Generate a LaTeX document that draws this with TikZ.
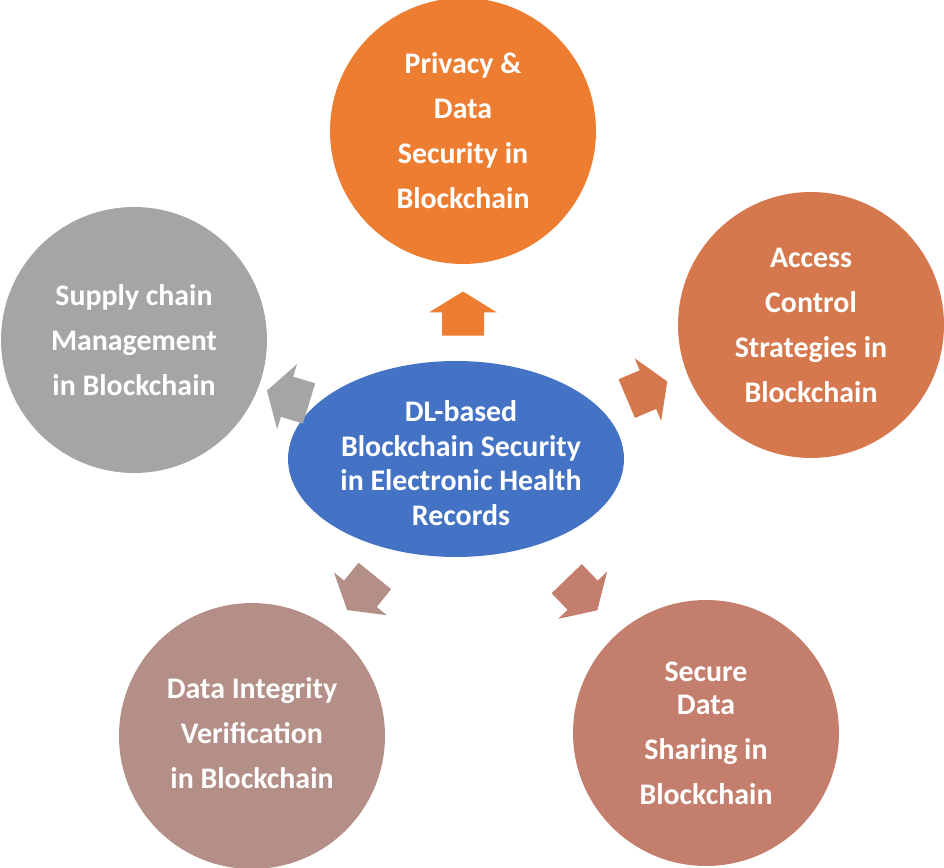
\documentclass[tikz,border=0pt]{standalone}
\usepackage{fontspec}
\setmainfont{Carlito}
\usetikzlibrary{shapes.geometric}
\definecolor{cOrange}{HTML}{ED7D31}
\definecolor{cRust}{HTML}{D6784D}
\definecolor{cGray}{HTML}{A5A5A5}
\definecolor{cMauve}{HTML}{B38F87}
\definecolor{cClay}{HTML}{C47E6D}
\definecolor{cBlue}{HTML}{4472C4}
\tikzset{
  bubble/.style={circle, minimum size=5.32cm, inner sep=0pt, text=white,
    font=\bfseries\fontsize{17}{25.6}\selectfont, align=center},
  hub/.style={ellipse, minimum width=6.72cm, minimum height=3.92cm, inner sep=0pt, fill=cBlue},
  hubtext/.style={text=white, inner sep=0pt, align=center,
    font=\bfseries\fontsize{17}{19.6}\selectfont},
  blockarrow/.pic={\fill (-22,-21) -- (1,-21) -- (1,-34) -- (22,0) -- (1,34) -- (1,21) -- (-22,21) -- cycle;}
}
\begin{document}
\begin{tikzpicture}[x=0.02cm, y=0.02cm]
\useasboundingbox (0,0) rectangle (944,867);
\fill[white] (0,0) rectangle (944,867);
% outer circles
\node[bubble, fill=cOrange] (privacy) at (463,736) {Privacy \&\\Data\\Security in\\Blockchain};
\node[bubble, fill=cRust] (access) at (811,542) {Access\\Control\\Strategies in\\Blockchain};
\node[bubble, fill=cGray] (supply) at (134,527) {Supply chain\\Management\\in Blockchain};
\node[bubble, fill=cMauve] (integrity) at (252,131) {};
\node[text=white, font=\bfseries\fontsize{17}{25.6}\selectfont, align=center, inner sep=0pt] (integritytxt) at (252,134) {Data Integrity\\Verification\\in Blockchain};
\node[bubble, fill=cClay] (sharing) at (706,134) {Secure\\[-6.8pt]Data\\Sharing in\\Blockchain};
% centre
\node[hub] (hub) at (456,408) {};
\node[hubtext] (hubtxt) at (461,404) {DL-based\\Blockchain Security\\in Electronic Health\\Records};
% block arrows
\pic[fill=cOrange, rotate=90] at (463,553.5) {blockarrow};
\pic[fill=cRust, rotate=23] at (647,477) {blockarrow};
\pic[fill=cGray, rotate=163] at (288,470) {blockarrow};
\pic[fill=cMauve, rotate=231] at (361,274) {blockarrow};
\pic[fill=cClay, rotate=-46] at (582,272.5) {blockarrow};
\end{tikzpicture}
\end{document}
